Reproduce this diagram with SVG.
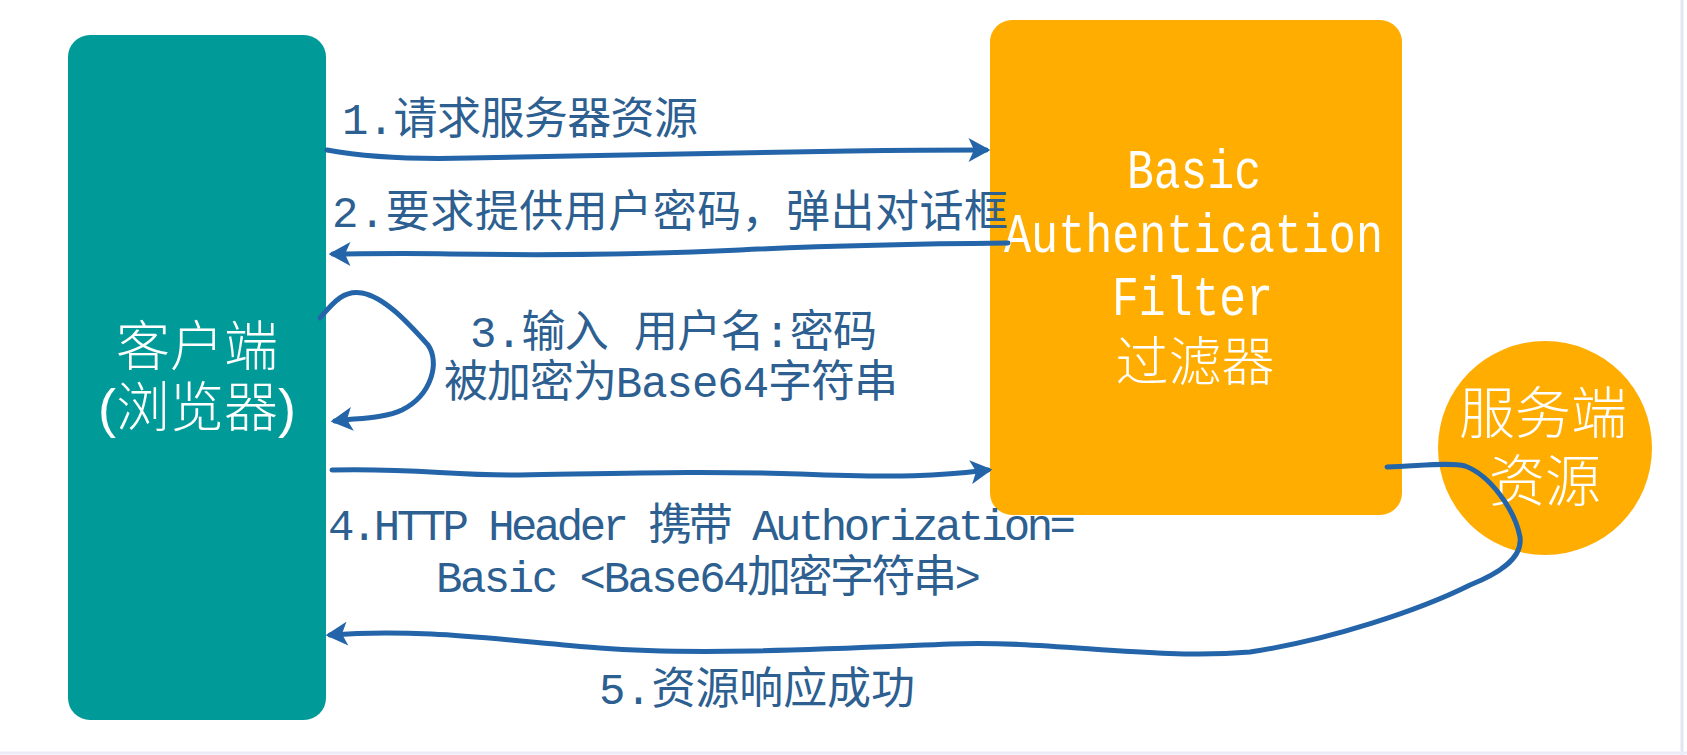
<svg xmlns="http://www.w3.org/2000/svg" width="1687" height="755" viewBox="0 0 1687 755">
  <style>
    .cjk { font-family: "Liberation Sans", "Noto Sans CJK SC", sans-serif; fill: #ffffff; font-weight: 300; }
    .mono { font-family: "Liberation Mono", "Noto Sans CJK SC", monospace; fill: #ffffff; }
    .lbl { font-family: "Liberation Mono", "Noto Sans CJK SC", monospace; font-size: 44px; fill: #2d5f91; }
    .conn { fill: none; stroke: #2464a8; stroke-width: 5; stroke-linecap: round; stroke-linejoin: round; }
  </style>
  <defs>
    <marker id="arrow" markerUnits="userSpaceOnUse" markerWidth="24" markerHeight="24" viewBox="0 0 20 22" refX="16" refY="11" orient="auto">
      <path d="M0,0 L20,11 L0,22 L5,11 Z" fill="#2464a8"/>
    </marker>
  </defs>
  <rect x="0" y="0" width="1687" height="755" fill="#ffffff"/>
  <line x1="1682" y1="0" x2="1682" y2="755" stroke="#e3e5f3" stroke-width="3"/>
  <line x1="0" y1="753" x2="1687" y2="753" stroke="#ececf8" stroke-width="3"/>

  <g id="client">
    <rect x="68" y="35" width="258" height="685" rx="22" fill="#009b98"/>
    <text class="cjk" x="197" y="366" font-size="54" text-anchor="middle">客户端</text>
    <text class="cjk" x="197" y="427" font-size="54" text-anchor="middle">(浏览器)</text>
  </g>

  <g id="filter">
    <rect x="990" y="20" width="412" height="495" rx="22" fill="#ffad00"/>
    <text class="mono" x="1127" y="188" font-size="55" textLength="134" lengthAdjust="spacingAndGlyphs">Basic</text>
    <text class="mono" x="1004" y="252" font-size="55" textLength="379" lengthAdjust="spacingAndGlyphs">Authentication</text>
    <text class="mono" x="1112" y="315" font-size="55" textLength="161" lengthAdjust="spacingAndGlyphs">Filter</text>
    <text class="cjk" x="1195" y="381" font-size="53" text-anchor="middle">过滤器</text>
  </g>

  <g id="resource">
    <circle cx="1545" cy="448" r="107" fill="#ffad00"/>
    <text class="cjk" x="1543" y="433" font-size="56" text-anchor="middle">服务端</text>
    <text class="cjk" x="1545" y="501" font-size="56" text-anchor="middle">资源</text>
  </g>

  <g id="labels">
    <text class="lbl" x="342" y="134" textLength="356">1.请求服务器资源</text>
    <text class="lbl" x="332" y="227" textLength="676">2.要求提供用户密码，弹出对话框</text>
    <text class="lbl" x="470" y="347" textLength="407">3.输入 用户名:密码</text>
    <text class="lbl" x="444" y="397" textLength="454">被加密为Base64字符串</text>
    <text class="lbl" x="328" y="540" textLength="748">4.HTTP Header 携带 Authorization=</text>
    <text class="lbl" x="436" y="592" textLength="545">Basic &lt;Base64加密字符串&gt;</text>
    <text class="lbl" x="599" y="704" textLength="316">5.资源响应成功</text>
  </g>

  <g id="connectors">
    <path class="conn" marker-end="url(#arrow)" d="M327,150 C360,156 400,160 470,158 C600,155 750,153 850,151 C920,150 960,150 986,150"/>
    <path class="conn" marker-end="url(#arrow)" d="M1008,243 C900,244 820,246 740,250 C620,256 520,255 450,254 C400,253 360,254 333,254"/>
    <path class="conn" marker-end="url(#arrow)" d="M320,318 C335,300 345,290 362,293 C385,297 410,325 428,345 C440,362 432,395 402,410 C385,418 360,418 335,421"/>
    <path class="conn" marker-end="url(#arrow)" d="M332,470 C420,468 450,476 520,475 C640,473 700,471 800,474 C900,478 940,476 988,470"/>
    <path class="conn" marker-end="url(#arrow)" d="M1387,467 C1420,466 1450,462 1465,466 C1490,475 1515,510 1520,537 C1523,560 1495,575 1470,585 C1420,610 1330,640 1250,652 C1150,660 1050,640 950,644 C850,648 700,656 600,648 C500,640 420,628 330,635"/>
  </g>
</svg>
